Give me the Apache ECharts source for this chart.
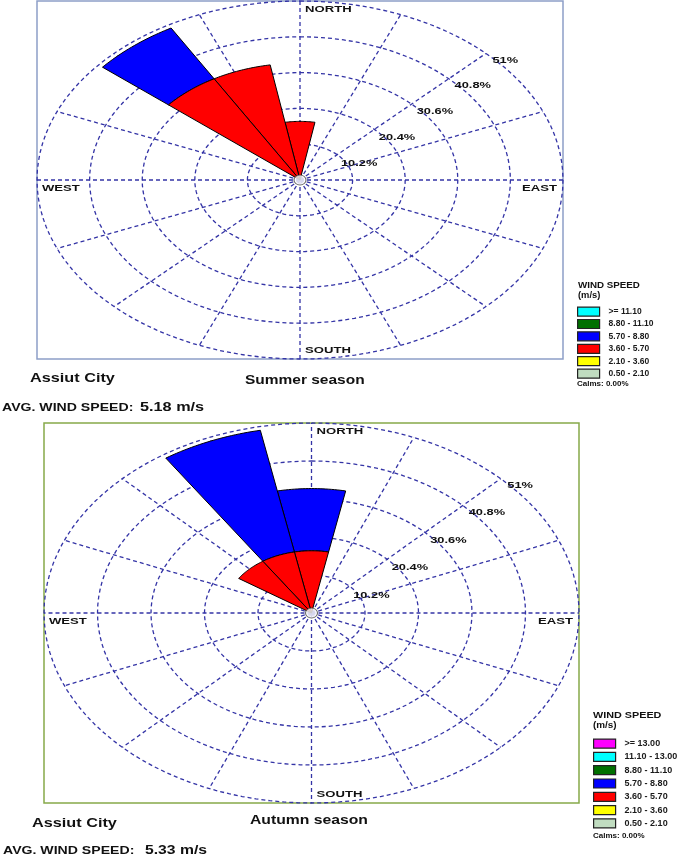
<!DOCTYPE html>
<html>
<head>
<meta charset="utf-8">
<script src="https://cdn.jsdelivr.net/npm/echarts@6/dist/echarts.min.js"></script>
<style>
html,body{margin:0;padding:0;background:#fff;}
#chart{width:685px;height:855px;}
</style>
</head>
<body>
<div id="chart"></div>
<script>
// ---------------- DATA ----------------
const ringValues = [10.2, 20.4, 30.6, 40.8, 51];
const ringLabels = ['10.2%', '20.4%', '30.6%', '40.8%', '51%'];
const spokeAngles = [0, 22.5, 45, 67.5, 90, 112.5, 135, 157.5, 180, 202.5, 225, 247.5, 270, 292.5, 315, 337.5];
const compassNames = ['NORTH', 'EAST', 'SOUTH', 'WEST'];
const compassAngles = [0, 90, 180, 270];

// Summer season (directions in degrees clockwise from north)
const summerDirections = [0, 340, 320];
const summerRed = [16.7, 33.3, 33.3];   // 3.60 - 5.70 m/s (%)
const summerBlue = [0, 0, 16.7];        // 5.70 - 8.80 m/s (%)
const summerClasses = ['>= 11.10', '8.80 - 11.10', '5.70 - 8.80', '3.60 - 5.70', '2.10 - 3.60', '0.50 - 2.10'];
const summerTitle = 'Summer season';
const summerAvg = '5.18 m/s';

// Autumn season
const autumnDirections = [0, 337.5, 315];
const autumnRed = [16.7, 16.7, 16.7];   // 3.60 - 5.70 m/s (%)
const autumnBlue = [16.7, 33.3, 0];     // 5.70 - 8.80 m/s (%)
const autumnClasses = ['>= 13.00', '11.10 - 13.00', '8.80 - 11.10', '5.70 - 8.80', '3.60 - 5.70', '2.10 - 3.60', '0.50 - 2.10'];
const autumnTitle = 'Autumn season';
const autumnAvg = '5.33 m/s';

const cityName = 'Assiut City';
const calmsText = 'Calms: 0.00%';

// ---------------- STYLE ----------------
const classColors = {
  '>= 13.00': '#ff00ff', '>= 11.10': '#00ffff', '11.10 - 13.00': '#00ffff',
  '8.80 - 11.10': '#007000', '5.70 - 8.80': '#0000ff', '3.60 - 5.70': '#ff0000',
  '2.10 - 3.60': '#ffff00', '0.50 - 2.10': '#c0dcc0'
};
const gridColor = '#3434a6';
const FAMILY = 'Liberation Sans';

function polar(r, deg) {
  const t = deg * Math.PI / 180;
  return [r * Math.sin(t), r * Math.cos(t)];
}

function buildPetalSeries(chartIdx, classes, directions, freqByClass, sectorWidth) {
  const series = [];
  const cum = directions.map(() => 0);
  const stacked = {};
  for (let c = classes.length - 1; c >= 0; c--) {
    const name = classes[c];
    const f = freqByClass[name] || directions.map(() => 0);
    const items = [];
    directions.forEach((d, i) => {
      if (f[i] > 0) {
        items.push([d, cum[i], cum[i] + f[i]]);
        cum[i] += f[i];
      }
    });
    stacked[name] = items;
  }
  classes.forEach(name => {
    series.push({
      type: 'custom', name: name, id: 'petal' + chartIdx + name,
      coordinateSystem: 'cartesian2d', xAxisIndex: chartIdx, yAxisIndex: chartIdx,
      itemStyle: { color: classColors[name] },
      z: 5, silent: true,
      encode: { x: -1, y: -1 },
      data: stacked[name],
      renderItem: function (params, api) {
        const a = api.value(0), r0 = api.value(1), r1 = api.value(2);
        const pts = [];
        const n = 24;
        for (let k = 0; k <= n; k++) {
          const t = a - sectorWidth / 2 + sectorWidth * k / n;
          pts.push(api.coord(polar(r1, t)));
        }
        if (r0 > 0) {
          for (let k = n; k >= 0; k--) {
            const t = a - sectorWidth / 2 + sectorWidth * k / n;
            pts.push(api.coord(polar(r0, t)));
          }
        } else {
          pts.push(api.coord([0, 0]));
        }
        return { type: 'polygon', shape: { points: pts },
          style: { fill: api.visual('color'), stroke: '#000', lineWidth: 1 } };
      }
    });
  });
  return series;
}

function textStyle(text, size, align) {
  return { text: text, x: 0, y: 0, fontFamily: FAMILY, fontSize: size, fontWeight: 'bold', fill: '#111',
    textAlign: align, align: align, textVerticalAlign: 'middle', verticalAlign: 'middle' };
}

function buildGridSeries(chartIdx) {
  const rings = {
    type: 'custom', id: 'rings' + chartIdx, coordinateSystem: 'cartesian2d',
    xAxisIndex: chartIdx, yAxisIndex: chartIdx, z: 2, silent: true,
    encode: { x: -1, y: -1 },
    data: ringValues.map((v, i) => [v, i]),
    renderItem: function (params, api) {
      const r = api.value(0);
      const pts = [];
      for (let t = 0; t <= 360; t += 3) pts.push(api.coord(polar(r, t)));
      const lp = api.coord([r * 0.72 + 0.6, r * 0.72 - 2.5]);
      return { type: 'group', children: [
        { type: 'polyline', shape: { points: pts },
          style: { fill: null, stroke: gridColor, lineWidth: 1.3, lineDash: [4, 3] } },
        { type: 'text', x: lp[0], y: lp[1], scaleX: 1.35, scaleY: 1, z2: 10,
          style: textStyle(ringLabels[api.value(1)], 9.5, 'left') }
      ] };
    }
  };
  const spokes = {
    type: 'custom', id: 'spokes' + chartIdx, coordinateSystem: 'cartesian2d',
    xAxisIndex: chartIdx, yAxisIndex: chartIdx, z: 2, silent: true,
    encode: { x: -1, y: -1 },
    data: spokeAngles.map(a => [a]),
    renderItem: function (params, api) {
      const a = api.value(0);
      const p0 = api.coord([0, 0]);
      const p1 = api.coord(polar(ringValues[ringValues.length - 1], a));
      return { type: 'line', shape: { x1: p0[0], y1: p0[1], x2: p1[0], y2: p1[1] },
        style: { stroke: gridColor, lineWidth: 1.3, lineDash: [4, 3] } };
    }
  };
  const compass = {
    type: 'custom', id: 'compass' + chartIdx, coordinateSystem: 'cartesian2d',
    xAxisIndex: chartIdx, yAxisIndex: chartIdx, z: 6, silent: true,
    encode: { x: -1, y: -1 },
    data: compassAngles.map((a, i) => [a, i]),
    renderItem: function (params, api) {
      const a = api.value(0);
      const p = api.coord(polar(ringValues[ringValues.length - 1], a));
      let x = p[0] + 5, y = p[1], align = 'left';
      if (a === 0) y = p[1] + 8;
      else if (a === 180) y = p[1] - 9;
      else if (a === 270) y = p[1] + 8;
      else { x = p[0] - 6; y = p[1] + 8; align = 'right'; }
      return { type: 'text', x: x, y: y, scaleX: 1.38, scaleY: 1,
        style: textStyle(compassNames[api.value(1)], 9.5, align) };
    }
  };
  const center = {
    type: 'scatter', id: 'center' + chartIdx, xAxisIndex: chartIdx, yAxisIndex: chartIdx,
    data: [[0, 0]], symbol: 'circle', symbolSize: [12, 10], z: 10, silent: true,
    itemStyle: { color: '#fff', borderColor: '#444', borderWidth: 1 }
  };
  return [rings, spokes, compass, center];
}

function txt(x, y, text, size, sx) {
  return { type: 'text', x: x, y: y, scaleX: sx || 1, scaleY: 1, silent: true,
    style: textStyle(text, size, 'left') };
}

const series = [].concat(
  buildGridSeries(0),
  buildPetalSeries(0, summerClasses, summerDirections, { '3.60 - 5.70': summerRed, '5.70 - 8.80': summerBlue }, 20),
  buildGridSeries(1),
  buildPetalSeries(1, autumnClasses, autumnDirections, { '3.60 - 5.70': autumnRed, '5.70 - 8.80': autumnBlue }, 22.5)
);

const axisCommon = { type: 'value', min: -51, max: 51, show: false };

const option = {
  animation: false,
  backgroundColor: '#fff',
  grid: [
    { left: 37, top: 1, width: 526, height: 358, show: true, borderColor: '#8d9fc8', borderWidth: 1.5, backgroundColor: 'transparent' },
    { left: 44, top: 423, width: 535, height: 380, show: true, borderColor: '#86a94a', borderWidth: 1.5, backgroundColor: 'transparent' }
  ],
  xAxis: [Object.assign({ gridIndex: 0 }, axisCommon), Object.assign({ gridIndex: 1 }, axisCommon)],
  yAxis: [Object.assign({ gridIndex: 0 }, axisCommon), Object.assign({ gridIndex: 1 }, axisCommon)],
  legend: [
    { data: summerClasses, orient: 'vertical', left: 577, top: 306.5, padding: 0, itemWidth: 22, itemHeight: 9, itemGap: 2.2,
      icon: 'rect', selectedMode: false,
      itemStyle: { borderColor: '#222', borderWidth: 1.2 },
      textStyle: { fontFamily: FAMILY, fontWeight: 'bold', fontSize: 8.5, color: '#1a1a1a', lineHeight: 9, padding: [0, 0, 0, 4] } },
    { data: autumnClasses, orient: 'vertical', left: 593, top: 738.5, padding: 0, itemWidth: 22, itemHeight: 9, itemGap: 3.1,
      icon: 'rect', selectedMode: false,
      itemStyle: { borderColor: '#222', borderWidth: 1.2 },
      textStyle: { fontFamily: FAMILY, fontWeight: 'bold', fontSize: 9, color: '#1a1a1a', lineHeight: 9, padding: [0, 0, 0, 4] } }
  ],
  graphic: [
    txt(578, 286, 'WIND SPEED', 8.5, 1.15),
    txt(578, 296, '(m/s)', 8.5, 1.1),
    txt(577, 384, calmsText, 8, 1),
    txt(30, 378, cityName, 13, 1.25),
    txt(245, 381, summerTitle, 12, 1.29),
    txt(2, 408, 'AVG. WIND SPEED:', 10, 1.41),
    txt(140, 407, summerAvg, 13, 1.25),

    txt(593, 716, 'WIND SPEED', 9, 1.2),
    txt(593, 726, '(m/s)', 9, 1.1),
    txt(593, 836, calmsText, 8, 1),
    txt(32, 823, cityName, 13, 1.25),
    txt(250, 821, autumnTitle, 12, 1.31),
    txt(3, 851, 'AVG. WIND SPEED:', 10, 1.41),
    txt(145, 850, autumnAvg, 13, 1.21)
  ],
  series: series
};

const chart = echarts.init(document.getElementById('chart'), null, { renderer: 'canvas' });
chart.setOption(option);
</script>
</body>
</html>
